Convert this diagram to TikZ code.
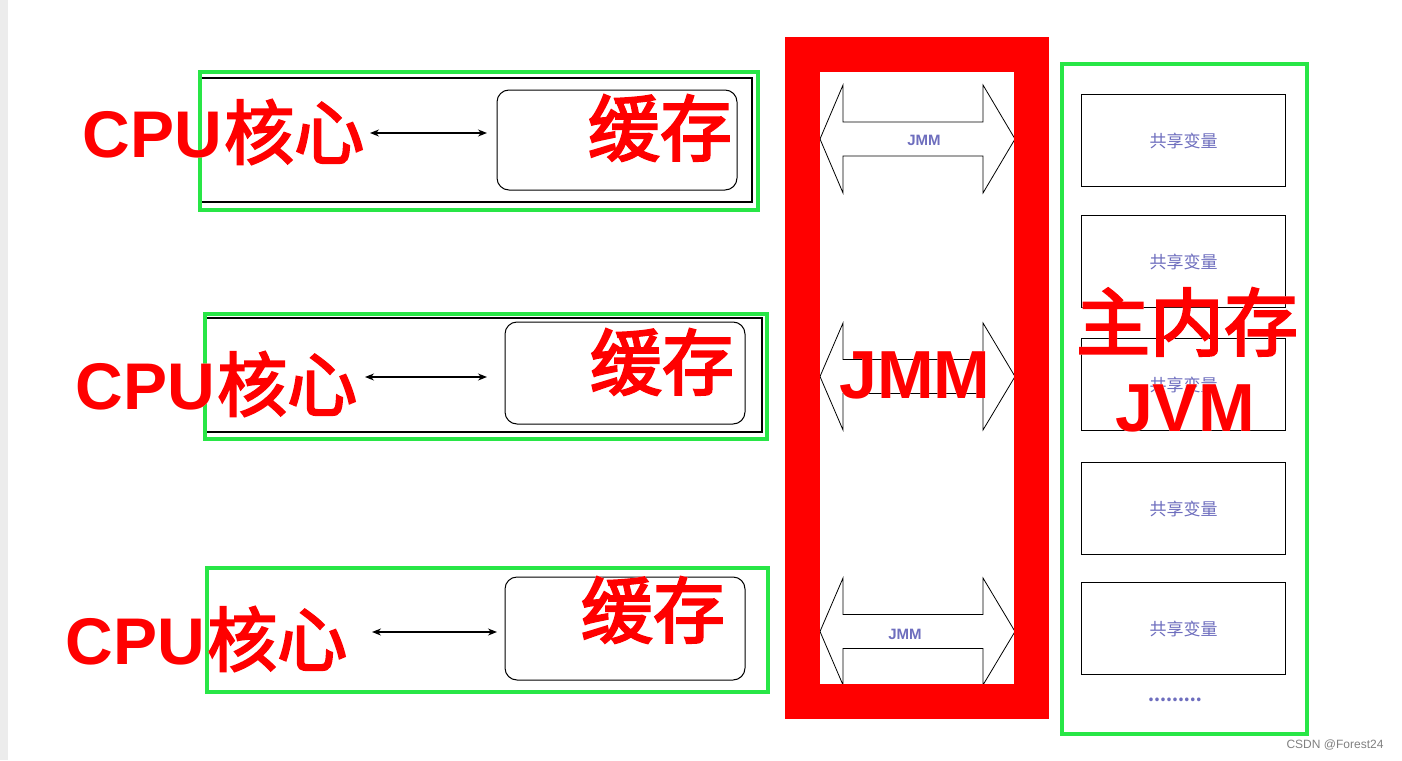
\documentclass[tikz,border=0pt]{standalone}
\usepackage{fontspec}
\setmainfont{Liberation Sans}
\newfontfamily\cjk{Noto Sans CJK SC}[FakeBold=3]
\newfontfamily\cjkn{Noto Sans CJK SC}
\usepackage[outline]{contour}
\contourlength{3pt}
\usetikzlibrary{arrows.meta}
\begin{document}
\begin{tikzpicture}[x=1pt,y=-1pt,
  grn/.style={draw={rgb,255:red,40;green,230;blue,70},line width=4pt},
  blk/.style={draw=black,line width=1.2pt},
  rbox/.style={draw=black,line width=1pt,rounded corners=12pt},
  share/.style={draw=black,line width=1pt,fill=white},
  link/.style={{Stealth[length=9pt,width=7pt]}-{Stealth[length=9pt,width=7pt]},line width=1.3pt},
  sharetxt/.style={text={rgb,255:red,110;green,110;blue,190},font=\cjkn\fontsize{17}{17}\selectfont},
  big/.style={text=red,inner sep=0pt},
  jmms/.style={text={rgb,255:red,110;green,110;blue,190},font=\bfseries\fontsize{15}{15}\selectfont}]
\useasboundingbox (0,0) rectangle (1402,760);
\fill[gray!15] (0,0) rectangle (8,760);
% rows
\draw[blk] (200,78) rectangle (752,202);
\node[grn,minimum width=558,minimum height=138,inner sep=0,anchor=north west] (g1) at (198,70) {};
\draw[rbox] (497,90) rectangle (737,190);
\coordinate (a1) at (370,133); \coordinate (b1) at (487,133);
\draw[link] (a1) -- (b1);
\draw[blk] (205,318) rectangle (762,432);
\node[grn,minimum width=562,minimum height=125,inner sep=0,anchor=north west] (g2) at (203,312) {};
\draw[rbox] (505,322) rectangle (745,424);
\coordinate (a2) at (365,377); \coordinate (b2) at (487,377);
\draw[link] (a2) -- (b2);
\node[grn,minimum width=561,minimum height=124,inner sep=0,anchor=north west] (g3) at (205,566) {};
\draw[rbox] (505,577) rectangle (745,680);
\coordinate (a3) at (372,632); \coordinate (b3) at (497,632);
\draw[link] (a3) -- (b3);
% double arrows
\foreach \t/\b in {85/193,323/430,578/685}{
  \pgfmathsetmacro\m{(\t+\b)/2}
  \pgfmathsetmacro\st{\m-17}\pgfmathsetmacro\sb{\m+17}
  \draw[thick,fill=white] (820,\m) -- (843,\t) -- (843,\st) -- (983,\st) -- (983,\t) -- (1015,\m) -- (983,\b) -- (983,\sb) -- (843,\sb) -- (843,\b) -- cycle;
}
\node[jmms] (j1) at (924,140) {JMM};
\node[jmms] (j3) at (905,634) {JMM};
% red frame
\draw[red,line width=35pt] (802.5,54.5) rectangle (1031.5,701.5);
% main memory
\node[grn,minimum width=245,minimum height=670,inner sep=0,anchor=north west] (mm) at (1060,62) {};
\foreach \y/\n in {94/s1,215/s2,338/s3,462/s4,582/s5}{
  \node[share,minimum width=204,minimum height=92,inner sep=0,anchor=north west] (\n) at (1081,\y) {};
  \node[sharetxt] at (\n.center) {共享变量};
}
\node[sharetxt] (dots) at (1175,700) {\bfseries .........};
% big labels
\foreach \x/\y in {222/135,215/387,205/642}{
  \node[big,anchor=east,font=\bfseries\fontsize{66}{66}\selectfont] at (\x,\y) {\contour{white}{CPU}};
  \node[big,anchor=west,font=\cjk\fontsize{70}{70}\selectfont] at (\x+2,\y-3) {\contour{white}{核心}};
}
\node[big,font=\cjk\fontsize{72}{72}\selectfont] (c1) at (660,128) {\contour{white}{缓存}};
\node[big,font=\cjk\fontsize{72}{72}\selectfont] (c2) at (662,362) {\contour{white}{缓存}};
\node[big,font=\cjk\fontsize{72}{72}\selectfont] (c3) at (653,610) {\contour{white}{缓存}};
\node[big,font=\bfseries\fontsize{68}{68}\selectfont] (jb) at (915,375) {\contour{white}{JMM}};
\node[big,font=\cjk\fontsize{74}{74}\selectfont] (zn) at (1187,322) {\contour{white}{主内存}};
\node[big,font=\bfseries\fontsize{68}{68}\selectfont] (jvm) at (1185,408) {\contour{white}{JVM}};
\node[text=gray,font=\fontsize{12}{12}\selectfont] (wm) at (1335,745) {CSDN @Forest24};
\end{tikzpicture}
\end{document}
